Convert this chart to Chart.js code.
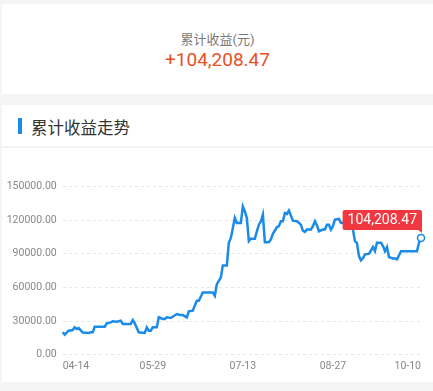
<!DOCTYPE html>
<html lang="zh">
<head>
<meta charset="UTF-8">
<title>累计收益走势</title>
<style>
  html, body { margin: 0; padding: 0; background: #f5f5f5; width: 433px; height: 391px; overflow: hidden;
    font-family: Roboto, "Noto Sans CJK SC", sans-serif; }
  .card { position: absolute; left: 2px; right: 0; background: #fff; }
  #summary { top: 4px; height: 90px; text-align: center; }
  #summary .label { position: absolute; left: 0; right: 0; top: 25px; font-size: 13px; color: #7a7a7a; }
  #summary .value { position: absolute; left: 0; right: 0; top: 44px; font-size: 19px; color: #e8511f; }
  #trend { top: 105px; height: 277px; }
  #trend .head { position: absolute; left: 0; right: 0; top: 0; height: 41px; border-bottom: 2px solid #f3f3f3; }
  #trend .bar { position: absolute; left: 16px; top: 13px; width: 4px; height: 16px; background: #1a8be8; }
  #trend .title { position: absolute; left: 29px; top: 10px; font-size: 16.5px; color: #333; }
  #wrap { position: absolute; left: 0; top: 43px; width: 431px; height: 234px; }
</style>
</head>
<body>
<div class="card" id="summary">
  <div class="label">累计收益(元)</div>
  <div class="value">+104,208.47</div>
</div>
<div class="card" id="trend">
  <div class="head"><div class="bar"></div><div class="title">累计收益走势</div></div>
  <div id="wrap"><canvas id="chart"></canvas></div>
</div>
<script src="https://cdn.jsdelivr.net/npm/chart.js"></script>
<script>
  const startDate = '04-14'
  const dates = ['04-14','04-15','04-17','04-19','04-20','04-21','04-22','04-24','04-27','04-28',
    '04-29','04-30','05-05','05-06','05-08','05-09','05-11','05-13','05-14','05-18',
    '05-19','05-20','05-22','05-24','05-25','05-26','05-27','05-28','05-29','05-31',
    '06-01','06-03','06-04','06-05','06-07','06-10','06-11','06-13','06-15','06-16',
    '06-18','06-19','06-20','06-21','06-22','06-23','06-28','06-29','06-30','07-02',
    '07-03','07-05','07-06','07-07','07-08','07-09','07-10','07-12','07-13','07-14',
    '07-15','07-16','07-17','07-19','07-20','07-21','07-22','07-23','07-24','07-26',
    '07-27','07-28','07-30','07-31','08-01','08-02','08-03','08-04','08-05','08-07',
    '08-09','08-11','08-12','08-13','08-14','08-16','08-17','08-18','08-19','08-20',
    '08-22','08-23','08-24','08-25','08-26','08-27','08-28','08-30','08-31','09-03',
    '09-05','09-06','09-07','09-08','09-09','09-10','09-11','09-12','09-14','09-15',
    '09-16','09-17','09-18','09-20','09-21','09-22','09-23','09-24','09-26','09-27',
    '09-28','09-30','10-08','10-09','10-10']
  const profit = [20100,18000,21500,22100,24500,23000,23800,19800,19500,20000,
    20000,25100,25100,28000,28900,29800,29500,30400,27500,27500,
    31000,28000,20000,19700,19500,24500,21500,21500,24500,24500,
    33400,31900,31900,33400,32800,36300,35700,35400,33400,38700,
    39300,44000,48100,48100,51700,55500,55500,52600,62900,68800,
    79700,79700,99800,104200,113100,122000,117500,117500,132300,127900,
    122000,101300,103400,103400,110100,116000,119000,124900,100400,100400,
    102800,107800,113700,114600,119000,119000,126400,125500,128500,119600,
    119000,116000,110700,109600,111600,111600,114600,119000,115500,110100,
    111600,111600,116000,116000,111600,114600,120500,121100,117500,118000,
    116000,111600,101300,99800,88000,84200,86000,89500,90000,93000,
    96000,92400,99800,99800,96900,92400,96000,87100,85900,85900,
    85000,92400,92400,99800,104208.47]
  const tickDates = ['04-14','05-29','07-13','08-27','10-10']
  const yTicks = [0, 30000, 60000, 90000, 120000, 150000]

  const dayOf = (md) => {
    const [m, d] = md.split('-').map(Number)
    const [m0, d0] = startDate.split('-').map(Number)
    return Math.round((Date.UTC(2020, m - 1, d) - Date.UTC(2020, m0 - 1, d0)) / 86400000)
  }
  const points = dates.map((md, i) => ({ x: dayOf(md), y: profit[i] }))
  const last = points.length - 1
  const fmt = (v) => v.toLocaleString('en-US', { minimumFractionDigits: 2, maximumFractionDigits: 2 })

  const blue = '#1a8be8'
  const lastLabel = {
    id: 'lastLabel',
    afterDatasetsDraw(chart) {
      const pt = chart.getDatasetMeta(0).data[last]
      const ctx = chart.ctx
      const text = fmt(profit[last])
      ctx.save()
      ctx.font = '14px Roboto'
      const w = ctx.measureText(text).width + 10
      const h = 20
      const right = pt.x + 1, bottom = pt.y - 8
      ctx.fillStyle = '#f1373f'
      ctx.beginPath()
      ctx.roundRect(right - w, bottom - h, w, h, 2)
      ctx.fill()
      ctx.beginPath()
      ctx.moveTo(right - 5, bottom - 1)
      ctx.lineTo(right, bottom - 1)
      ctx.lineTo(right, bottom + 3)
      ctx.closePath()
      ctx.fill()
      ctx.fillStyle = '#fff'
      ctx.textAlign = 'center'
      ctx.textBaseline = 'middle'
      ctx.fillText(text, right - w / 2, bottom - h / 2 + 1)
      ctx.restore()
    }
  }

  new Chart(document.getElementById('chart'), {
    type: 'line',
    data: {
      datasets: [{
        data: points,
        borderColor: blue,
        borderWidth: 2.5,
        tension: 0,
        clip: false,
        pointRadius: (c) => c.dataIndex === last ? 3.5 : 0,
        pointBackgroundColor: '#fff',
        pointBorderColor: blue,
        pointBorderWidth: 1.5,
        pointHoverRadius: 0
      }]
    },
    options: {
      responsive: true,
      maintainAspectRatio: false,
      animation: false,
      events: [],
      layout: { padding: { top: 38.5, right: 12, left: 0, bottom: 0 } },
      plugins: { legend: { display: false }, tooltip: { enabled: false } },
      scales: {
        x: {
          type: 'linear',
          min: 0,
          max: dayOf(tickDates[tickDates.length - 1]),
          grid: { display: false, drawTicks: false },
          border: { display: false },
          afterBuildTicks: (s) => { s.ticks = tickDates.map(d => ({ value: dayOf(d), label: d })) },
          afterFit: (s) => { s.height = 27.2 },
          ticks: {
            align: 'inner',
            padding: 5,
            maxRotation: 0,
            autoSkip: false,
            color: '#888',
            font: { family: 'Roboto', size: 10.5 },
            callback: (v) => tickDates.find(d => dayOf(d) === v)
          }
        },
        y: {
          min: 0,
          max: 150000,
          grid: { color: '#e6e6e6', drawTicks: false },
          border: { display: false, dash: [3, 3] },
          afterBuildTicks: (s) => { s.ticks = yTicks.map(v => ({ value: v })) },
          afterFit: (s) => { s.width = 60.7 },
          ticks: {
            padding: 6,
            color: '#888',
            font: { family: 'Roboto', size: 10.5 },
            callback: (v) => v.toFixed(2)
          }
        }
      }
    },
    plugins: [lastLabel]
  })
</script>
</body>
</html>
